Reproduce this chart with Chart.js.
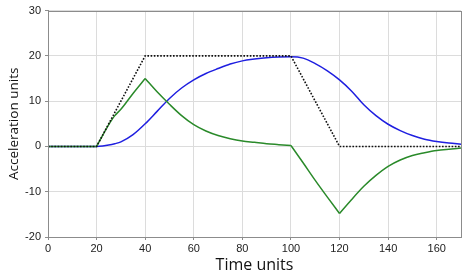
<!DOCTYPE html>
<html>
<head>
<meta charset="utf-8">
<script src="https://cdn.jsdelivr.net/npm/chart.js@4.4.1/dist/chart.umd.min.js"></script>
<style>
  html, body { margin: 0; padding: 0; background: #ffffff; }
  #wrap { width: 474px; height: 279px; }
</style>
</head>
<body>
<div id="wrap"><canvas id="chart" width="474" height="279"></canvas></div>
<script>
// input (dotted) trapezoid
const inputTimes = [0, 20, 40, 100, 120, 170];
const inputValues = [0, 0, 20, 20, 0, 0];

// shared sample times for the two response curves
const times = [0, 5, 10, 15, 20, 22.5, 25, 27.5, 30, 35, 40, 45, 50, 55, 60, 65, 70, 75, 80, 85, 90, 95, 100,
  105, 110, 115, 120, 125, 130, 135, 140, 145, 150, 155, 160, 165, 170];

// blue: lagged response
const blueValues = [0, 0, 0, 0, 0, 0.1, 0.3, 0.6, 1.0, 2.6, 5.0, 7.8, 10.6, 12.9, 14.7, 16.1, 17.2, 18.2, 18.9, 19.3, 19.6, 19.75, 19.8,
  19.5, 18.3, 16.7, 14.7, 12.2, 9.2, 6.8, 4.9, 3.5, 2.4, 1.6, 1.1, 0.75, 0.5];

// green: difference
const greenValues = [0, 0, 0, 0, 0, 2.45, 4.8, 6.8, 8.2, 11.7, 15.0, 12.0, 9.3, 6.8, 4.8, 3.4, 2.4, 1.7, 1.2, 0.9, 0.6, 0.4, 0.2,
  -3.6, -7.5, -11.2, -14.8, -11.7, -8.8, -6.4, -4.4, -3.0, -2.0, -1.4, -0.9, -0.6, -0.35];

// corners of the green curve (indexes into times) so each piece is smoothed on its own
const greenBreaks = [0, 4, 10, 22, 26, 36];

const xTicks = [0, 20, 40, 60, 80, 100, 120, 140, 160];

const BLUE = '#1f1fe0';
const GREEN = '#2a8a2a';

function points(xs, ys) {
  return xs.map((x, i) => ({ x, y: ys[i] }));
}

function greenPieces() {
  const pieces = [];
  for (let i = 0; i < greenBreaks.length - 1; i++) {
    const from = greenBreaks[i];
    const to = greenBreaks[i + 1];
    pieces.push({
      data: points(times.slice(from, to + 1), greenValues.slice(from, to + 1)),
      borderColor: GREEN,
      borderWidth: 1.5,
      pointRadius: 0,
      cubicInterpolationMode: 'monotone',
      order: 2,
    });
  }
  return pieces;
}

const frame = {
  id: 'frame',
  afterDatasetsDraw(chart) {
    const { ctx, chartArea } = chart;
    ctx.save();
    ctx.strokeStyle = '#8c8c8c';
    ctx.lineWidth = 1;
    ctx.strokeRect(Math.round(chartArea.left) + 0.5, Math.round(chartArea.top) + 0.5,
      Math.round(chartArea.right - chartArea.left), Math.round(chartArea.bottom - chartArea.top));
    ctx.restore();
  },
};

new Chart(document.getElementById('chart'), {
  type: 'line',
  data: {
    datasets: [
      {
        data: points(inputTimes, inputValues),
        borderColor: '#111111',
        borderWidth: 1.6,
        borderDash: [1.6, 1.6],
        pointRadius: 0,
        tension: 0,
        order: 1,
      },
      {
        data: points(times, blueValues),
        borderColor: BLUE,
        borderWidth: 1.5,
        pointRadius: 0,
        cubicInterpolationMode: 'monotone',
        order: 3,
      },
      ...greenPieces(),
    ],
  },
  plugins: [frame],
  options: {
    responsive: false,
    animation: false,
    layout: { padding: { top: 8, right: 13, left: 6, bottom: 4 } },
    plugins: {
      legend: { display: false },
      tooltip: { enabled: false },
    },
    scales: {
      x: {
        type: 'linear',
        min: 0,
        max: 170,
        afterBuildTicks(scale) {
          scale.ticks = xTicks.map((value) => ({ value }));
        },
        afterFit(scale) {
          scale.height = 38;
        },
        grid: { color: '#dcdcdc', tickLength: 3, tickColor: '#8c8c8c' },
        border: { color: '#8c8c8c' },
        ticks: {
          color: '#222222',
          font: { family: 'Liberation Sans', size: 11 },
          padding: 2,
          maxRotation: 0,
        },
        title: {
          display: true,
          text: 'Time units',
          color: '#111111',
          font: { family: 'Open Sans', size: 16 },
          padding: { top: 0, bottom: 0 },
        },
      },
      y: {
        min: -20,
        max: 30,
        afterFit(scale) {
          scale.width = 42;
        },
        grid: { color: '#dcdcdc', tickLength: 3, tickColor: '#8c8c8c' },
        border: { color: '#8c8c8c' },
        ticks: {
          stepSize: 10,
          color: '#222222',
          font: { family: 'Liberation Sans', size: 11 },
          padding: 4,
        },
        title: {
          display: true,
          text: 'Acceleration units',
          color: '#111111',
          font: { family: 'Open Sans', size: 13.5 },
          padding: { top: 0, bottom: 2 },
        },
      },
    },
  },
});
</script>
</body>
</html>
